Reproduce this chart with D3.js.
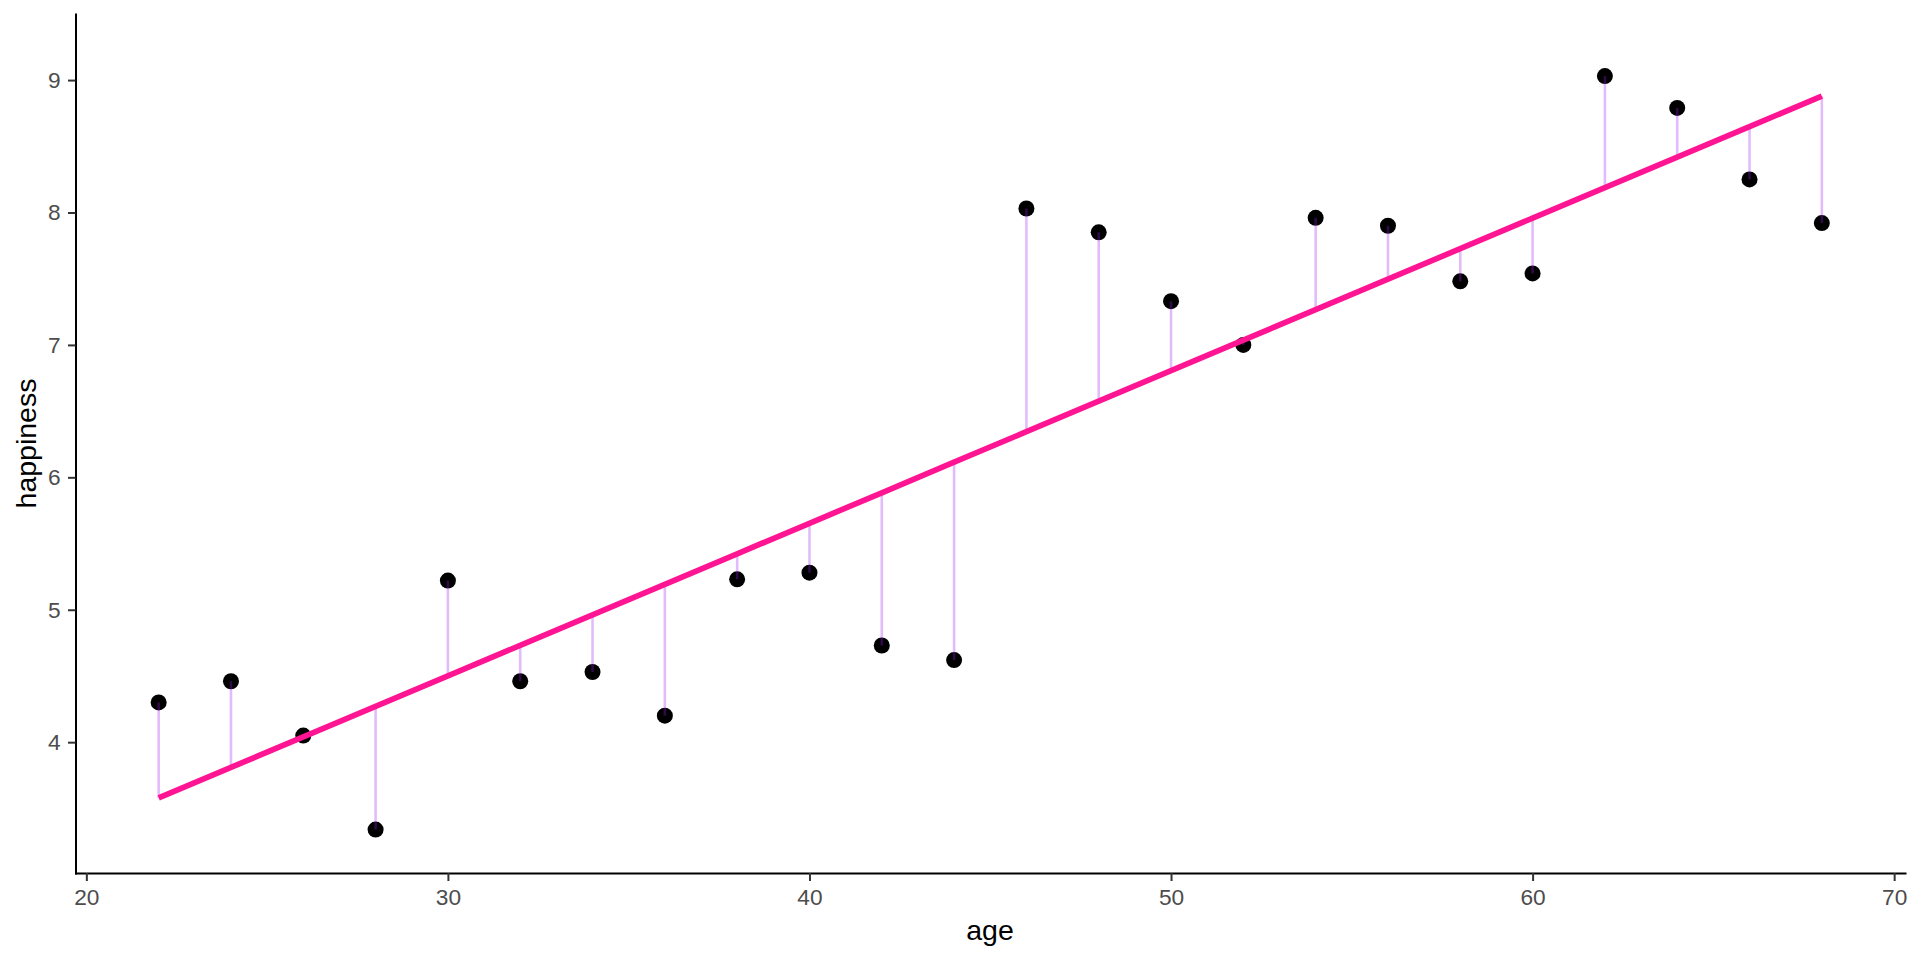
<!DOCTYPE html>
<html>
<head>
<meta charset="utf-8">
<script src="https://cdn.jsdelivr.net/npm/d3@7"></script>
<style>
  html, body { margin: 0; padding: 0; background: #ffffff; }
  svg { display: block; }
  text { font-family: "Liberation Sans", Arial, sans-serif; }
</style>
</head>
<body>
<svg id="chart" width="1920" height="960"></svg>
<script>
// ---- data ----
const ages = [22, 24, 26, 28, 30, 32, 34, 36, 38, 40, 42, 44, 46, 48, 50, 52, 54, 56, 58, 60, 62, 64, 66, 68];
const happiness = [4.30, 4.46, 4.05, 3.34, 5.22, 4.46, 4.53, 4.20, 5.23, 5.28, 4.73, 4.62,
                   8.03, 7.85, 7.33, 7.00, 7.96, 7.90, 7.48, 7.54, 9.03, 8.79, 8.25, 7.92];
const xTicks = [20, 30, 40, 50, 60, 70];
const yTicks = [4, 5, 6, 7, 8, 9];
const xLabel = "age";
const yLabel = "happiness";

// ---- least squares fit ----
const n = ages.length;
const mx = d3.mean(ages), my = d3.mean(happiness);
let sxy = 0, sxx = 0;
for (let i = 0; i < n; i++) { sxy += (ages[i] - mx) * (happiness[i] - my); sxx += (ages[i] - mx) ** 2; }
const slope = sxy / sxx, intercept = my - slope * mx;
const data = ages.map((a, i) => ({ age: a, hap: happiness[i], fit: intercept + slope * a }));

// ---- layout ----
const svg = d3.select("#chart");
const x = d3.scaleLinear().domain([19.7, 70.3]).range([75.5, 1905]);
const y = d3.scaleLinear().domain([3.012, 9.499]).range([873, 14]);

// points
svg.append("g").selectAll("circle").data(data).join("circle")
  .attr("cx", d => x(d.age)).attr("cy", d => y(d.hap)).attr("r", 8)
  .attr("fill", "#000000");

// residual segments
svg.append("g").selectAll("line").data(data).join("line")
  .attr("x1", d => x(d.age)).attr("x2", d => x(d.age))
  .attr("y1", d => y(d.hap)).attr("y2", d => y(d.fit))
  .attr("stroke", "#A020F0").attr("stroke-opacity", 0.3).attr("stroke-width", 2.6);

// fitted line
svg.append("path").datum(data)
  .attr("d", d3.line().x(d => x(d.age)).y(d => y(d.fit)))
  .attr("fill", "none").attr("stroke", "#FF1493").attr("stroke-width", 5.7);

// axes
const xAxis = svg.append("g").attr("transform", "translate(0,873)")
  .call(d3.axisBottom(x).tickValues(xTicks).tickSize(8).tickSizeOuter(0).tickPadding(8).tickFormat(d3.format("d")));
const yAxis = svg.append("g").attr("transform", "translate(75.5,0)")
  .call(d3.axisLeft(y).tickValues(yTicks).tickSize(7.5).tickSizeOuter(0).tickPadding(7.3).tickFormat(d3.format("d")));

[xAxis, yAxis].forEach(g => {
  g.select(".domain").attr("stroke", "#000000").attr("stroke-width", 2).attr("stroke-linecap", "square");
  g.selectAll(".tick line").attr("stroke", "#333333").attr("stroke-width", 2);
  g.selectAll(".tick text").attr("fill", "#4D4D4D").style("font-size", "22.7px")
    .style("font-family", "'Liberation Sans', Arial, sans-serif");
});

// axis titles
svg.append("text").attr("x", 990).attr("y", 940).attr("text-anchor", "middle")
  .style("font-size", "28.5px").attr("fill", "#000000").text(xLabel);
svg.append("text").attr("transform", "translate(36,443.5) rotate(-90)").attr("text-anchor", "middle")
  .style("font-size", "28.5px").attr("fill", "#000000").text(yLabel);
</script>
</body>
</html>
